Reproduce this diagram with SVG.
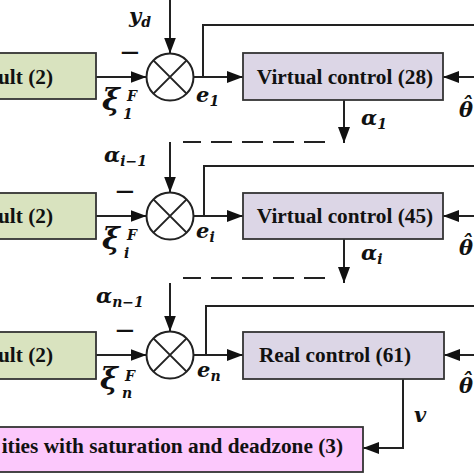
<svg xmlns="http://www.w3.org/2000/svg" width="474" height="474" viewBox="0 0 474 474">
<defs>
<marker id="arr" markerUnits="userSpaceOnUse" markerWidth="16" markerHeight="12" refX="16" refY="6" orient="auto">
<path d="M0,0 L16,6 L0,12 z" fill="#111"/>
</marker>
<style>
.ln{stroke:#222;stroke-width:2;fill:none}
.dash{stroke:#222;stroke-width:2;fill:none;stroke-dasharray:21 10}
.green{fill:#D9E3BF;stroke:#333;stroke-width:1.8}
.lav{fill:#DCD6E6;stroke:#333;stroke-width:1.8}
.pink{fill:#FCC8FC;stroke:#333;stroke-width:1.8}
.bt{font-family:"Liberation Serif","Times New Roman",serif;font-weight:bold;font-size:21.3px;fill:#111}
.m{font-family:"DejaVu Serif","Liberation Serif",serif;font-weight:bold;font-style:italic;font-size:21px;fill:#111}
.x{font-family:"DejaVu Serif","Liberation Serif",serif;font-weight:bold;font-style:italic;font-size:30px;fill:#111}
.s{font-size:14px}
.mn{font-family:"DejaVu Sans",sans-serif;font-size:26px;fill:#111}
.sum{fill:#fff;stroke:#222;stroke-width:2}
</style>
</defs>
<rect width="474" height="474" fill="#fff"/>

<g id="connectors">
<!-- row 1 -->
<line class="ln" x1="170" y1="0" x2="170" y2="53.5" marker-end="url(#arr)"/>
<line class="ln" x1="96" y1="77" x2="146.5" y2="77" marker-end="url(#arr)"/>
<line class="ln" x1="193.5" y1="77" x2="243" y2="77" marker-end="url(#arr)"/>
<polyline class="ln" points="203,77 203,25 474,25"/>
<line class="ln" x1="474" y1="77" x2="443" y2="77" marker-end="url(#arr)"/>
<line class="ln" x1="344" y1="100" x2="344" y2="143" marker-end="url(#arr)"/>
<line class="dash" x1="325" y1="142" x2="183" y2="142"/>
<!-- row 2 -->
<line class="ln" x1="170" y1="142" x2="170" y2="192.5" marker-end="url(#arr)"/>
<line class="ln" x1="96" y1="216" x2="146.5" y2="216" marker-end="url(#arr)"/>
<line class="ln" x1="193.5" y1="216" x2="243" y2="216" marker-end="url(#arr)"/>
<polyline class="ln" points="204,216 204,166 474,166"/>
<line class="ln" x1="474" y1="216" x2="443" y2="216" marker-end="url(#arr)"/>
<line class="ln" x1="344" y1="239" x2="344" y2="283" marker-end="url(#arr)"/>
<line class="dash" x1="325" y1="278" x2="183" y2="278"/>
<!-- row 3 -->
<line class="ln" x1="170" y1="283" x2="170" y2="331.5" marker-end="url(#arr)"/>
<line class="ln" x1="96" y1="355" x2="146.5" y2="355" marker-end="url(#arr)"/>
<line class="ln" x1="193.5" y1="355" x2="243" y2="355" marker-end="url(#arr)"/>
<polyline class="ln" points="206,355 206,306 474,306"/>
<line class="ln" x1="474" y1="355" x2="444" y2="355" marker-end="url(#arr)"/>
<polyline class="ln" points="403,379 403,448 363,448" marker-end="url(#arr)"/>
</g>

<g id="fault1"><rect class="green" x="-2" y="53" width="98" height="46"/><text class="bt" x="53" y="84" text-anchor="end">ult (2)</text></g>
<g id="fault2"><rect class="green" x="-2" y="193" width="98" height="46"/><text class="bt" x="53" y="223" text-anchor="end">ult (2)</text></g>
<g id="fault3"><rect class="green" x="-2" y="332" width="98" height="47"/><text class="bt" x="53" y="362" text-anchor="end">ult (2)</text></g>

<g id="sum1"><circle class="sum" cx="170" cy="77" r="23.5"/><path class="ln" d="M153.4,60.4 L186.6,93.6 M186.6,60.4 L153.4,93.6"/></g>
<g id="sum2"><circle class="sum" cx="170" cy="216" r="23.5"/><path class="ln" d="M153.4,199.4 L186.6,232.6 M186.6,199.4 L153.4,232.6"/></g>
<g id="sum3"><circle class="sum" cx="170" cy="355" r="23.5"/><path class="ln" d="M153.4,338.4 L186.6,371.6 M186.6,338.4 L153.4,371.6"/></g>

<g id="vc1"><rect class="lav" x="243" y="53" width="200" height="47"/><text class="bt" x="345" y="84" text-anchor="middle">Virtual control (28)</text></g>
<g id="vc2"><rect class="lav" x="243" y="193" width="200" height="46"/><text class="bt" x="345" y="223" text-anchor="middle">Virtual control (45)</text></g>
<g id="rc"><rect class="lav" x="243" y="332" width="201" height="47"/><text class="bt" x="335" y="362" text-anchor="middle">Real control (61)</text></g>

<g id="nonlin"><rect class="pink" x="-2" y="427" width="365" height="45"/><text class="bt" x="343" y="453" text-anchor="end">ities with saturation and deadzone (3)</text></g>

<g id="labels">
<text class="m" x="129" y="23">y<tspan class="s" dy="4">d</tspan></text>
<text class="mn" x="130" y="61" text-anchor="middle">−</text>
<text class="x" x="102" y="110">ξ</text><text class="m s" x="127" y="101">F</text><text class="m s" x="123" y="119">1</text>
<text class="m" x="196" y="102">e<tspan class="s" dy="4">1</tspan></text>
<text class="m" x="361" y="125">α<tspan class="s" dy="4">1</tspan></text>
<text class="m" x="459" y="117">θ<tspan dx="-11" dy="-5">ˆ</tspan></text>

<text class="m" x="104" y="162">α<tspan class="s" dy="4">i−1</tspan></text>
<text class="mn" x="125" y="200" text-anchor="middle">−</text>
<text class="x" x="102" y="249">ξ</text><text class="m s" x="127" y="240">F</text><text class="m s" x="124" y="258">i</text>
<text class="m" x="196" y="238">e<tspan class="s" dy="4">i</tspan></text>
<text class="m" x="361" y="260">α<tspan class="s" dy="4">i</tspan></text>
<text class="m" x="459" y="255">θ<tspan dx="-11" dy="-5">ˆ</tspan></text>

<text class="m" x="96" y="303">α<tspan class="s" dy="4">n−1</tspan></text>
<text class="mn" x="125" y="339" text-anchor="middle">−</text>
<text class="x" x="100" y="389">ξ</text><text class="m s" x="125" y="381">F</text><text class="m s" x="122" y="398">n</text>
<text class="m" x="197" y="377">e<tspan class="s" dy="4">n</tspan></text>
<text class="m" x="414" y="422">v</text>
<text class="m" x="459" y="393">θ<tspan dx="-11" dy="-5">ˆ</tspan></text>
</g>
</svg>
